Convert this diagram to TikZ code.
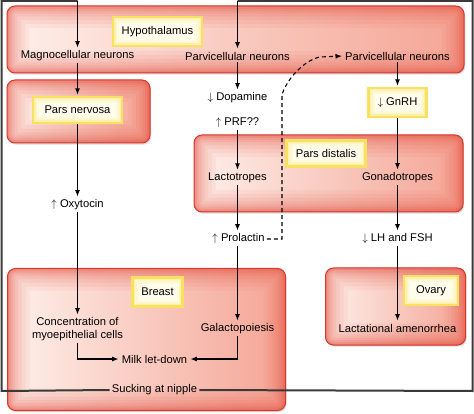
\documentclass[tikz,border=0pt]{standalone}
\usepackage{fontspec}
\setmainfont{Liberation Sans}
\usetikzlibrary{arrows.meta,shadows}
\definecolor{boxred}{HTML}{D6392E}
\definecolor{glowred}{HTML}{E64A3A}
\definecolor{pinkL}{HTML}{FEEFEA}
\definecolor{pinkR}{HTML}{F4A595}
\definecolor{ybord}{HTML}{F8E15E}
\definecolor{yfill}{HTML}{FFFDEB}
\definecolor{framegray}{HTML}{3A3A3A}
\newcommand{\upa}{$\uparrow$}
\newcommand{\dna}{$\downarrow$}
\begin{document}
\begin{tikzpicture}[x=1pt,y=-1pt,
  every node/.style={font=\fontsize{11.2}{13}\selectfont, inner sep=2pt},
  regbox/.style={rounded corners=8pt, draw=boxred, line width=1pt,
    left color=pinkL, right color=pinkR,
    drop shadow={opacity=0.28, shadow xshift=1.2pt, shadow yshift=-1.6pt},
    path picture={
      \foreach \w/\o in {44/0.06, 36/0.07, 28/0.08, 21/0.09, 15/0.11, 10/0.13, 6/0.16, 2.5/0.22}{
        \draw[glowred, line width=\w pt, opacity=\o, rounded corners=9pt]
          (path picture bounding box.south west) rectangle (path picture bounding box.north east);
      }
    }},
  labbox/.style={draw=ybord, line width=2.4pt, fill=yfill, inner sep=0pt,
    path picture={
      \foreach \w/\o in {12/0.12, 8/0.16, 5/0.22}{
        \draw[ybord, line width=\w pt, opacity=\o]
          (path picture bounding box.south west) rectangle (path picture bounding box.north east);
      }
    }},
  txt/.style={align=center},
  arr/.style={-{Latex[length=6.5pt,width=5pt]}, line width=1.1pt, black, shorten >=1pt},
  dsh/.style={arr, dash pattern=on 4pt off 3pt},
  frame/.style={draw=framegray, line width=2pt}
]
\useasboundingbox (0,0) rectangle (474,414);

% region boxes
\node[regbox, minimum width=457pt, minimum height=67pt] (hypo) at (235.5,39.5) {};
\node[regbox, minimum width=143pt, minimum height=63pt] (nerv) at (78.5,111.5) {};
\node[regbox, minimum width=269pt, minimum height=77pt] (dist) at (328.5,173.5) {};
\node[regbox, minimum width=278pt, minimum height=142pt] (breast) at (146.5,339.5) {};
\node[regbox, minimum width=140pt, minimum height=77pt] (ovary) at (395.5,306.5) {};

% label boxes
\node[labbox, minimum width=89pt, minimum height=29pt] (hypolab) at (157.5,31.5) {Hypothalamus};
\node[labbox, minimum width=89pt, minimum height=26pt] (nervlab) at (77.5,110) {Pars nervosa};
\node[labbox, minimum width=58pt, minimum height=29pt] (gnrh) at (397.5,102.5) {\dna\ GnRH};
\node[labbox, minimum width=79pt, minimum height=26pt] (distlab) at (326,153.5) {Pars distalis};
\node[labbox, minimum width=50pt, minimum height=29pt] (breastlab) at (157.5,292) {Breast};
\node[labbox, minimum width=54pt, minimum height=29pt] (ovarylab) at (431,290.5) {Ovary};

% text nodes
\node[txt] (magno) at (77.5,56) {Magnocellular neurons};
\node[txt] (parv) at (237.5,56) {Parvicellular neurons};
\node[txt] (rparv) at (397.5,56) {Parvicellular neurons};
\node[txt] (dopa) at (237.5,98) {\dna\ Dopamine};
\node[txt] (prf) at (237.5,123) {\upa\ PRF??};
\node[txt] (oxy) at (77.5,205) {\upa\ Oxytocin};
\node[txt] (lact) at (237.5,178) {Lactotropes};
\node[txt] (gona) at (397.5,178) {Gonadotropes};
\node[txt] (prol) at (238.5,239) {\upa\ Prolactin};
\node[txt] (lhfsh) at (397.5,239) {\dna\ LH and FSH};
\node[txt] (conc) at (77.5,329.5) {Concentration of\\myoepithelial cells};
\node[txt] (gal) at (237.5,329) {Galactopoiesis};
\node[txt] (milk) at (154.5,359) {Milk let-down};
\node[txt] (amen) at (397.5,328) {Lactational amenorrhea};
\node[txt] (suck) at (154.5,390) {Sucking at nipple};

% frame (feedback loop)
\coordinate (fbl) at (1.5,391);
\coordinate (ftl) at (1.5,1);
\coordinate (ftm) at (77.5,1);
\coordinate (fbr) at (472.5,391);
\coordinate (ftr) at (472.5,1);
\coordinate (ftc) at (237.5,1);
\draw[frame] (suck.west) -- (fbl) -- (ftl) -- (ftm);
\draw[frame] (suck.east) -- (fbr) -- (ftr) -- (ftc);

% connectors
\draw[arr] (ftm) -- (magno.north);
\draw[arr] (magno.south) -- (nervlab.north);
\draw[arr] (nervlab.south) -- (oxy.north);
\draw[arr] (oxy.south) -- (conc.north);
\draw[arr] (conc.south) |- (milk.west);
\draw[arr] (gal.south) |- (milk.east);

\draw[arr] (ftc) -- (parv.north);
\draw[arr] (parv.south) -- (dopa.north);
\draw[arr] (prf.south) -- (lact.north);
\draw[arr] (lact.south) -- (prol.north -| lact.south);
\draw[arr] (prol.south -| gal.north) -- (gal.north);

\draw[arr] (rparv.south) -- (gnrh.north);
\draw[arr] (gnrh.south) -- (gona.north);
\draw[arr] (gona.south) -- (lhfsh.north);
\draw[arr] (lhfsh.south) -- (amen.north);

\coordinate (d1) at (282,239);
\coordinate (d2) at (282,95);
\coordinate (d3) at (320,57);
\draw[dsh] (prol.east) -- (d1) -- (d2) .. controls (286,80) and (304,60) .. (d3) -- (rparv.west);
\end{tikzpicture}
\end{document}
